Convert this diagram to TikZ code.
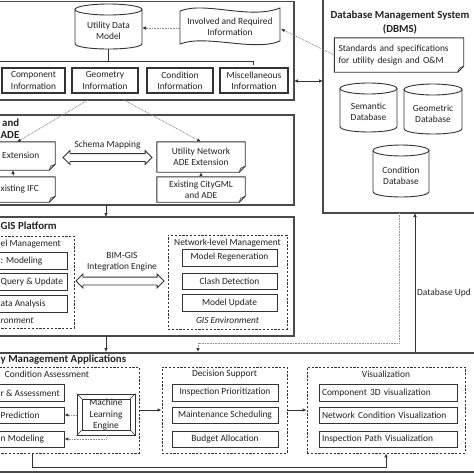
\documentclass[tikz,border=0pt]{standalone}
\usepackage{fontspec}
\setmainfont{Carlito}
\usetikzlibrary{calc,arrows.meta,shapes.arrows}
\definecolor{pc}{HTML}{4A4A4A}
\definecolor{bc}{HTML}{333333}
\definecolor{tc}{HTML}{222222}
\definecolor{dc}{HTML}{8C8C8C}
\newcommand\fs{\fontsize{9.4}{11.3}\selectfont}
\newcommand\fb{\fontsize{10.8}{12.5}\selectfont\bfseries}
\newcommand\bxat[7]{\node[#1, minimum width={(#5)-(#3)}, minimum height={(#6)-(#4)}] (#2) at ({((#3)+(#5))/2},{((#4)+(#6))/2}) {#7};}
\newcommand\dbcyl[5]{%
  \draw[cyl] (#1-#4,#2+#5) -- (#1-#4,#3-#5) .. controls (#1-#4,#3+0.333*#5) and (#1+#4,#3+0.333*#5) .. (#1+#4,#3-#5) -- (#1+#4,#2+#5);
  \draw[cyl] (#1,#2+#5) ellipse [x radius=#4, y radius=#5];}
\newcommand\foldit[1]{%
  \draw[fld] (#1.north west) -- (#1.north east) -- ($(#1.south east)+(0,-6)$) -- ($(#1.south east)+(-6,0)$) -- (#1.south west) -- cycle;
  \draw[fld, line width=0.6pt] ($(#1.south east)+(-6,0)$) -- ($(#1.south east)+(-4.5,-4)$) -- ($(#1.south east)+(0,-6)$);}
\tikzset{
  panel/.style={draw=pc, line width=1.4pt},
  bx/.style={draw=bc, line width=0.9pt, fill=white, align=center, inner sep=1pt, font=\fs, text=tc},
  tbx/.style={bx, line width=1.3pt},
  vbx/.style={bx, text width=132pt, align=left, inner xsep=3pt},
  nb/.style={align=center, inner sep=1pt, font=\fs, text=tc},
  grp/.style={draw=bc, line width=0.9pt, dash pattern=on 2.2pt off 1.6pt},
  ttl/.style={font=\fb, text=tc, inner sep=0pt},
  lbl/.style={font=\fs, text=tc, inner sep=0pt, align=center},
  ilbl/.style={lbl, font=\fs\itshape},
  frag/.style={lbl, anchor=west},
  arr/.style={draw=bc, line width=0.6pt, -{Latex[length=4pt,width=3.5pt]}},
  barr/.style={draw=bc, line width=0.6pt, {Latex[length=4pt,width=3.5pt]}-{Latex[length=4pt,width=3.5pt]}},
  darr/.style={draw=dc, line width=0.8pt, dash pattern=on 0.8pt off 0.8pt, -{Latex[length=4pt,width=3.5pt,color=bc]}},
  conn/.style={draw=bc, line width=0.6pt},
  cyl/.style={draw=bc, line width=0.9pt, fill=white},
  fld/.style={draw=bc, line width=0.9pt},
  dblarr/.style={double arrow, draw=bc, line width=0.8pt, fill=white, inner sep=3.5pt, double arrow head extend=3pt},
}
\begin{document}
\begin{tikzpicture}[x=1pt,y=-1pt]
\useasboundingbox (0,0) rectangle (474,474);
\clip (0,0) rectangle (474,474);
\fill[white] (0,0) rectangle (474,474);

% ---------- Panel 1 ----------
\draw[panel] (-10,1.5) rectangle (294,100);
\dbcyl{108.5}{4}{49}{33.5}{5.5}
\node[lbl] (udm) at (108.5,31) {Utility Data\\Model};
\coordinate (udmE) at (142,28);
\coordinate (udmB) at (108.5,49);
\coordinate (brk) at (108.5,61);
\draw[fld] (180,11) .. controls (205,1) and (250,20) .. (280,8) -- (280,41) .. controls (255,52) and (205,34) .. (180,44) -- cycle;
\node[lbl] (inv) at (230,27) {Involved and Required\\Information};
\coordinate (invW) at (180,28);
\coordinate (invE) at (281,29);
\draw[darr] (invW) -- (udmE);
\draw[conn] (udmB) -- (brk);
\coordinate (brkL) at (-10,61);
\coordinate (brkR) at (253,61);
\draw[conn] (brkL) -- (brkR) -- ++(0,4);
\bxat{tbx}{comp}{2}{68}{65}{93}{Component\\Information}
\bxat{tbx}{geom}{72}{68}{138}{93}{Geometry\\Information}
\bxat{tbx}{cond}{147}{68}{213}{93}{Condition\\Information}
\bxat{tbx}{misc}{220}{68}{288}{93}{Miscellaneous\\Information}
\coordinate (p1E) at (294,81);
\coordinate (geomL) at (88,100);
\coordinate (geomR) at (124,100);

% ---------- DBMS ----------
\draw[panel] (323,-10) rectangle (484,213);
\coordinate (dbW) at (323,81);
\draw[barr] (p1E) -- (dbW);
\node[ttl] (dbt1) at (400,16) {Database Management System};
\node[ttl] (dbt2) at (400,29) {(DBMS)};
\node[nb, text width=121pt, align=left, inner xsep=4pt, minimum height=34pt] (std) at (399,55) {Standards and specifications\\for utility design and O\&M};
\foldit{std}
\draw[darr] (std.west) -- (invE);
\dbcyl{368.5}{83}{132}{28.5}{5.5}
\node[lbl] (sem) at (368.5,112) {Semantic\\Database};
\dbcyl{433}{84}{134}{29}{5.5}
\node[lbl] (geo) at (433,114) {Geometric\\Database};
\dbcyl{401}{145}{197}{28}{5.5}
\node[lbl] (cdb) at (401,176) {Condition\\Database};

% ---------- Panel 2 ----------
\draw[panel] (-10,115) rectangle (294,205);
\node[ttl, anchor=west] (t2a) at (2,123) {and};
\node[ttl, anchor=west] (t2b) at (0.5,135) {ADE};
\bxat{nb}{ext}{-10}{142}{55}{170}{}
\foldit{ext}
\node[frag] (extT) at (2,155) {Extension};
\bxat{nb}{xist}{-10}{177}{55}{202}{}
\foldit{xist}
\node[frag] (xistT) at (0.5,189) {xisting IFC};
\coordinate (xistN) at (13,177);
\coordinate (extS) at (13,170);
\draw[darr] (xistN) -- (extS);
\bxat{nb}{unade}{157}{142}{245}{172}{Utility Network\\ADE Extension}
\foldit{unade}
\bxat{nb}{city}{157}{177}{245}{202}{Existing CityGML\\and ADE}
\foldit{city}
\draw[darr] (city.north) -- (unade.south);
\coordinate (extN) at (17,142);
\draw[darr] (geomL) -- (extN);
\draw[darr] (geomR) -- (unade.north);
\node[dblarr, minimum height=89pt, minimum width=13pt] (sm) at (107.5,157.5) {};
\node[lbl] (smT) at (107.5,145) {Schema Mapping};
\coordinate (p2S) at (106,205);
\coordinate (p3N) at (106,217);
\draw[arr] (p2S) -- (p3N);

% ---------- Panel 3 ----------
\draw[panel] (-10,217) rectangle (294,336);
\node[ttl, anchor=west] (t3) at (0.5,226) {GIS Platform};
\bxat{grp}{lg}{-10}{236}{74}{328}{}
\node[frag] (lgT) at (0.5,244) {el Management};
\bxat{bx}{lm1}{-10}{252}{67}{269}{}
\bxat{bx}{lm2}{-10}{273}{67}{290}{}
\bxat{bx}{lm3}{-10}{295}{67}{312}{}
\node[frag] (lm1T) at (0.5,261) {: Modeling};
\node[frag] (lm2T) at (0.5,282) {Query \& Update};
\node[frag] (lm3T) at (0.5,304) {ata Analysis};
\node[ilbl, anchor=west] (lgE) at (0.5,321) {ronment};
\node[lbl] (bgT) at (122,262) {BIM-GIS\\Integration Engine};
\node[dblarr, minimum height=88pt, minimum width=13pt] (bg) at (120,281) {};
\bxat{grp}{rg}{168}{235}{287}{329}{}
\node[lbl] (rgT) at (227.5,243) {Network-level Management};
\bxat{bx}{nm1}{182}{249}{277}{266}{Model Regeneration}
\bxat{bx}{nm2}{182}{273}{277}{289}{Clash Detection}
\bxat{bx}{nm3}{182}{294}{277}{311}{Model Update}
\node[ilbl] (rgE) at (227.5,320) {GIS Environment};
\coordinate (p3S) at (106,336);
\coordinate (p4N) at (106,352);
\draw[arr] (p3S) -- (p4N);

% ---------- DBMS links ----------
\coordinate (dbS1) at (399,213);
\coordinate (dtA) at (399,343);
\coordinate (dtB) at (198,343);
\coordinate (dtC) at (198,352);
\draw[darr] (dbS1) -- (dtA) -- (dtB) -- (dtC);
\coordinate (upA) at (415,353);
\coordinate (upB) at (415,213);
\draw[arr] (upA) -- (upB);
\node[lbl, anchor=west] (upT) at (417,293) {Database Upd};

% ---------- Panel 4 ----------
\draw[panel] (-10,353) rectangle (484,472);
\node[ttl, anchor=west] (t4) at (0.5,360) {y Management Applications};
\bxat{grp}{cag}{-10}{367}{139}{453}{}
\node[lbl] (cagT) at (47,374) {Condition Assessment};
\bxat{bx}{ca1}{-10}{384}{64}{401}{}
\bxat{bx}{ca2}{-10}{407}{64}{423}{}
\bxat{bx}{ca3}{-10}{431}{64}{447}{}
\node[frag] (ca1T) at (0.5,393) {r \& Assessment};
\node[frag] (ca2T) at (0.5,415) {Prediction};
\node[frag] (ca3T) at (0.5,439) {n Modeling};
\bxat{bx}{ml}{77}{394}{135}{435}{}
\draw[conn, line width=0.9pt] (82,399) rectangle (130,430);
\draw[conn] (ml.north west) -- (82,399) (ml.north east) -- (130,399) (ml.south west) -- (82,430) (ml.south east) -- (130,430);
\node[lbl, font=\fontsize{9.4}{11.5}\selectfont] (mlT) at (106,415) {Machine\\Learning\\Engine};
\draw[darr] (ca2.east -| ml.west) -- (ca2.east);
\draw[darr] (ml.south) -- (ml.south |- ca3.east) -- (ca3.east);
\bxat{grp}{dsg}{162}{367}{287}{453}{}
\node[lbl] (dsT) at (224.5,374) {Decision Support};
\bxat{bx}{ds1}{172}{384}{278}{401}{Inspection Prioritization}
\bxat{bx}{ds2}{172}{407}{278}{423}{Maintenance Scheduling}
\bxat{bx}{ds3}{172}{431}{278}{447}{Budget Allocation}
\bxat{grp}{vzg}{307}{367}{465}{453}{}
\node[lbl] (vzT) at (386,374) {Visualization};
\bxat{vbx}{vz1}{319}{384}{457}{401}{Component 3D visualization}
\bxat{vbx}{vz2}{319}{407}{457}{423}{Network Condition Visualization}
\bxat{vbx}{vz3}{319}{431}{457}{447}{Inspection Path Visualization}
\draw[arr] (cag.east) -- (dsg.west);
\draw[arr] (dsg.east) -- (vzg.west);
\coordinate (caB) at (32,453);
\draw[arr] (caB) -- ++(0,14) -| (vzg.south);
\end{tikzpicture}
\end{document}
